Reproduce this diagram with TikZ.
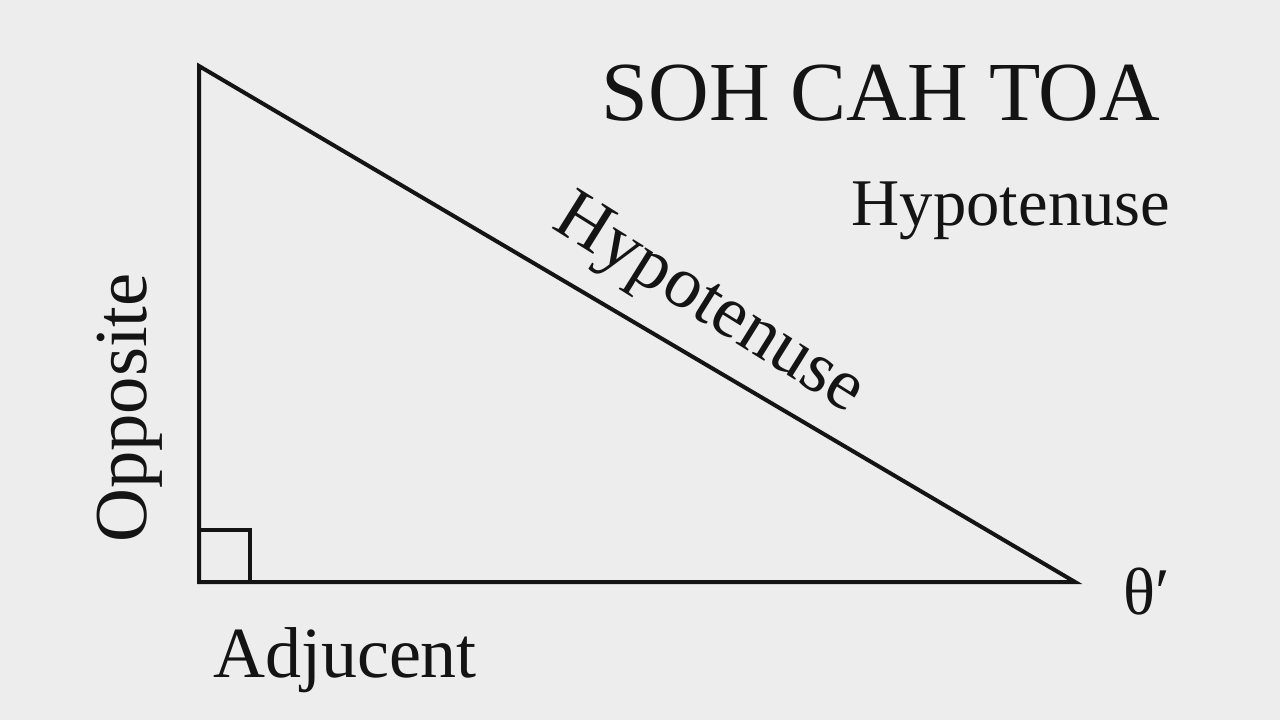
\documentclass[tikz,border=0pt]{standalone}
\usepackage{fontspec}
\setmainfont{Liberation Serif}
\definecolor{bg}{RGB}{237,237,237}
\definecolor{ink}{RGB}{20,20,20}
\begin{document}
\begin{tikzpicture}[x=0.75pt,y=-0.75pt,
  edge/.style={draw=ink,line width=3pt,line join=miter},
  lbl/.style={text=ink,inner sep=0pt}]
\fill[bg] (0,0) rectangle (1280,720);
\useasboundingbox (0,0) rectangle (1280,720);
\coordinate (A) at (199,66);
\coordinate (B) at (199,582);
\coordinate (C) at (1075,582);
\draw[edge] (A) -- (B) -- (C) -- cycle;
\coordinate (sq1) at (199,530);
\coordinate (sq2) at (250,530);
\coordinate (sq3) at (250,582);
\draw[edge,line width=2.4pt] (sq1) -- (sq2) -- (sq3);
\node[lbl,anchor=base,font=\fontsize{63}{70}\selectfont] (title) at (881,121) {SOH CAH TOA};
\node[lbl,anchor=base,font=\fontsize{50}{58}\selectfont] (hyp2) at (1011,225) {Hypotenuse};
\node[lbl,rotate=-32,font=\fontsize{55}{62}\selectfont] (hyp) at (708,307) {Hypotenuse};
\node[lbl,rotate=90,font=\fontsize{56}{64}\selectfont] (opp) at (130,408) {Opposite};
\node[lbl,anchor=base,font=\fontsize{54}{62}\selectfont] (adj) at (345,677) {Adjucent};
\node[lbl,anchor=base,font=\fontsize{50}{56}\selectfont] (theta) at (1147,614) {θ′};
\end{tikzpicture}
\end{document}
